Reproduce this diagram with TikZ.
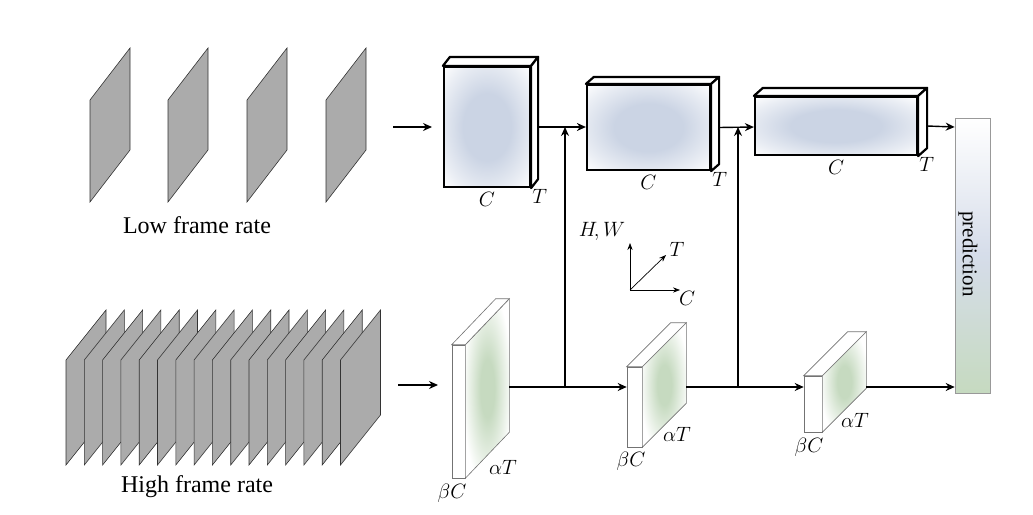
\documentclass[tikz,border=0pt]{standalone}
\usepackage{fontspec}
\setmainfont{Liberation Serif}
\usetikzlibrary{arrows.meta,calc}
\definecolor{sb}{RGB}{203,212,228}
\definecolor{fg}{RGB}{198,218,192}
\pgfdeclareradialshading{softb}{\pgfpoint{0bp}{0bp}}{color(0bp)=(sb);color(14bp)=(sb);color(28bp)=(white!60!sb);color(36bp)=(white);color(50bp)=(white)}
\pgfdeclareradialshading{softg}{\pgfpoint{0bp}{0bp}}{color(0bp)=(fg);color(8bp)=(fg);color(28bp)=(white);color(50bp)=(white)}
\begin{document}
\begin{tikzpicture}[x=1pt,y=-1pt,
  frame/.style={draw=black!80,fill=black!33,line width=0.6pt},
  slow/.style={draw=black,line width=2.2pt,inner sep=0,shading=softb},
  depth/.style={draw=black,line width=2.2pt,fill=white,line join=round},
  fast/.style={draw=black!55,line width=0.6pt,inner sep=0,fill=white},
  fside/.style={draw=black!55,line width=0.6pt,shading=softg},
  con/.style={line width=1.4pt,-{Stealth[length=9pt,width=8pt]}},
  lin/.style={line width=1.4pt},
  lab/.style={font=\fontsize{24}{26}\selectfont},
  ml/.style={font=\fontsize{20}{22}\selectfont},
]
\useasboundingbox (0,0) rectangle (1033,514);
% low frame rate
\foreach \x in {90,168,247,326}{
  \draw[frame] (\x,100) -- (\x+40,48) -- (\x+40,150) -- (\x,202) -- cycle;}
\node[lab] (low) at (197,225) {Low frame rate};
% high frame rate
\foreach \i in {0,...,15}{
  \pgfmathsetmacro{\x}{66+\i*18.3}
  \draw[frame] (\x,360) -- (\x+40,310) -- (\x+40,415) -- (\x,465) -- cycle;}
\node[lab] (high) at (197,487) {High frame rate};
\coordinate (la) at (393,127); \coordinate (lb) at (432,127);
\coordinate (ha) at (398,385); \coordinate (hb) at (438,385);
\draw[con] (la) -- (lb);
\draw[con] (ha) -- (hb);
% slow blocks
\node[slow,minimum width=86pt,minimum height=120pt] (s1) at (487,127) {};
\node[slow,minimum width=123pt,minimum height=85pt] (s2) at (648.5,127.5) {};
\node[slow,minimum width=162pt,minimum height=58pt] (s3) at (836,126) {};
\foreach \n/\dx/\dy in {s1/7/-9,s2/8/-7,s3/9/-8}{
  \draw[depth] (\n.north west) -- ++(\dx,\dy) -- ($(\n.north east)+(\dx,\dy)$) -- (\n.north east) -- cycle;
  \draw[depth] (\n.north east) -- ++(\dx,\dy) -- ($(\n.south east)+(\dx,\dy)$) -- (\n.south east) -- cycle;
  \node[ml,anchor=north,yshift=-1pt] at (\n.south) {$C$};
  \node[ml,anchor=north west,inner sep=1pt] at (\n.south east) {$T$};
}
% prediction
\node[draw=black!40,line width=0.6pt,minimum width=35pt,minimum height=275pt,inner sep=0,
  top color=white,bottom color=fg,middle color=sb!80] (pred) at (972.5,255.5) {};
\node[rotate=-90,font=\fontsize{21}{23}\selectfont] at (968,254) {prediction};
% fast blocks
\node[fast,minimum width=13pt,minimum height=133pt] (f1) at (458.5,411.5) {};
\node[fast,minimum width=15pt,minimum height=80pt] (f2) at (634.5,407) {};
\node[fast,minimum width=18pt,minimum height=56pt] (f3) at (813,404) {};
\foreach \n/\dx/\dy in {f1/44/-46,f2/44/-44,f3/44/-44}{
  \draw[fside] (\n.north east) -- ++(\dx,\dy) -- ($(\n.south east)+(\dx,\dy)$) -- (\n.south east) -- cycle;
  \draw[fast] (\n.north west) -- ++(\dx,\dy) -- ($(\n.north east)+(\dx,\dy)$) -- (\n.north east) -- cycle;
}
\node[ml] at (452,493) {$\beta C$};
\node[ml] at (503,467) {$\alpha T$};
\node[ml] at (631,461) {$\beta C$};
\node[ml] at (677,434) {$\alpha T$};
\node[ml] at (809,447) {$\beta C$};
\node[ml] at (855,420) {$\alpha T$};
% connectors
\coordinate (j1) at (565,387); \coordinate (j2) at (738,387);
\coordinate (f1o) at (509,387); \coordinate (f2o) at (686,387); \coordinate (f3o) at (866,387);
\draw[lin] (f1o) -- (j1);
\draw[con] (j1) -- (j1 -| f2.west);
\draw[lin] (f2o) -- (j2);
\draw[con] (j2) -- (j2 -| f3.west);
\draw[con] (f3o) -- (f3o -| pred.west);
\draw[con] (j1) -- (j1 |- s1.east);
\draw[con] (j2) -- (j2 |- s1.east);
\draw[con] ($(s1.east)+(7,0)$) -- (s2.west |- s1.east);
\draw[con] ($(s2.east)+(8,0)$) -- (s3.west |- s1.east);
\draw[con] ($(s3.east)+(9,0)$) -- (pred.west |- s1.east);
% axes
\coordinate (o) at (630,290);
\draw[line width=0.7pt,-{Stealth[length=7pt]}] (o) -- (630,243);
\draw[line width=0.7pt,-{Stealth[length=7pt]}] (o) -- (680,290);
\draw[line width=0.7pt,-{Stealth[length=7pt]}] (o) -- (666,255);
\node[ml] at (602,231) {$H\!,W$};
\node[ml] at (677,249) {$T$};
\node[ml] at (687,298) {$C$};
\end{tikzpicture}
\end{document}
